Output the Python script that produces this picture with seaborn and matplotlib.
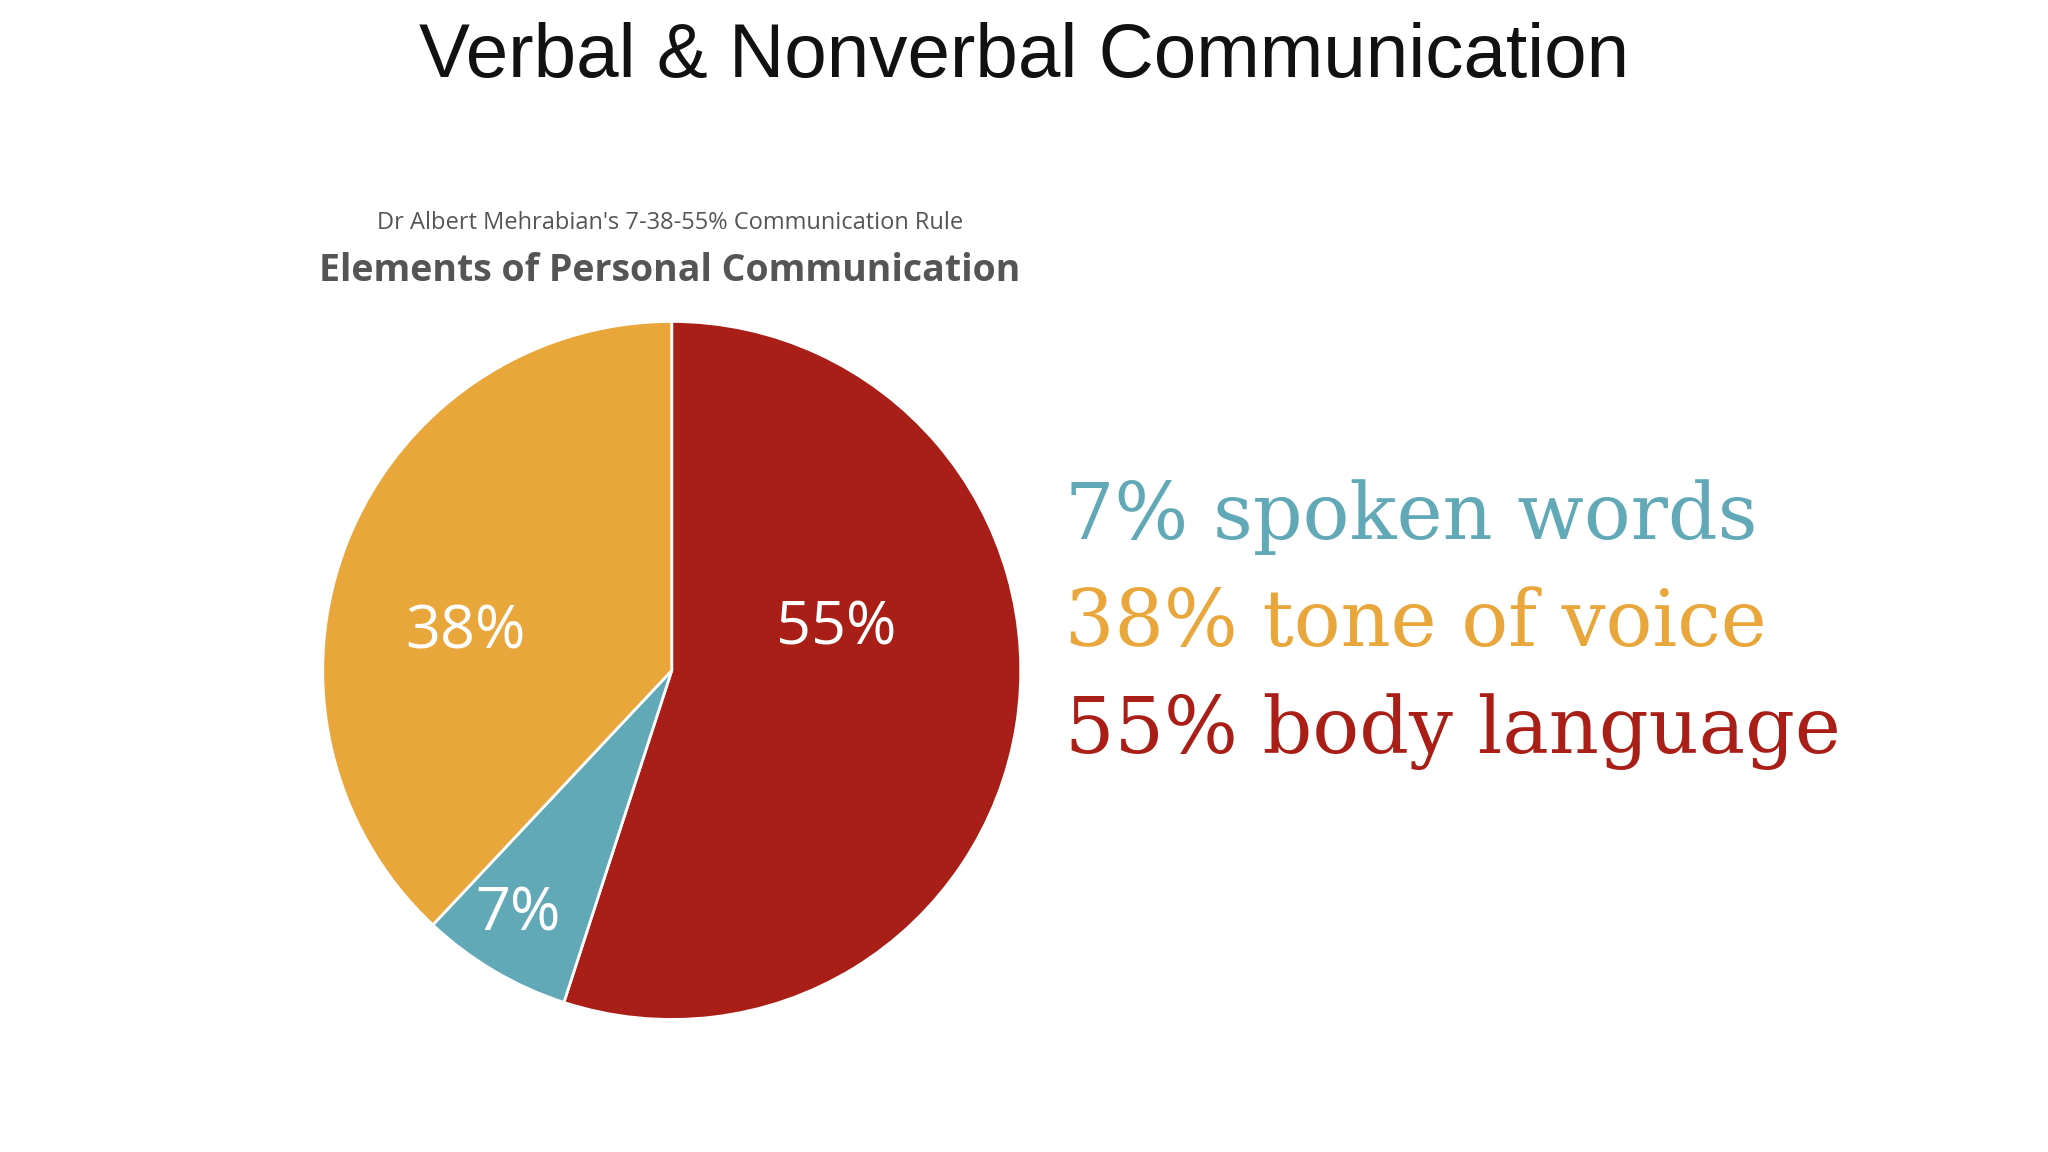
import matplotlib
matplotlib.use("Agg")
import matplotlib.pyplot as plt
import seaborn as sns

labels = ["body language", "spoken words", "tone of voice"]
values = [55, 7, 38]
colors = ["#A91F17", "#62A9B8", "#E9A63B"]
legend_order = [1, 2, 0]

sns.set_theme(style="white")
plt.rcParams['font.family'] = ['Open Sans', 'DejaVu Sans']

fig = plt.figure(figsize=(20.48, 11.52), dpi=100)
fig.patch.set_facecolor("white")

fig.text(0.5, 0.95, "Verbal & Nonverbal Communication", ha="center", va="center",
         fontsize=55, family="Liberation Sans", color="#111111")
fig.text(0.327, 0.806, "Dr Albert Mehrabian's 7-38-55% Communication Rule", ha="center",
         va="center", fontsize=17, color="#555555")
fig.text(0.327, 0.765, "Elements of Personal Communication", ha="center", va="center",
         fontsize=27, fontweight="bold", color="#555555")

cx, cy = 0.328, 0.418
h = 0.612
w = h * 1152 / 2048
ax = fig.add_axes([cx - w / 2, cy - h / 2, w, h])
ax.pie(values, colors=colors, startangle=90, counterclock=False,
       wedgeprops=dict(edgecolor="white", linewidth=2))
ax.set_xlim(-1.01, 1.01)
ax.set_ylim(-1.01, 1.01)
ax.set_aspect("equal")
ax.axis("off")

pct_pos = [(0.47, 0.12), (-0.44, -0.70), (-0.59, 0.11)]
for v, (x, y) in zip(values, pct_pos):
    ax.text(x, y, f"{v}%", color="white", fontsize=44, ha="center", va="center")

ys = [0.551, 0.458, 0.365]
for i, y in zip(legend_order, ys):
    fig.text(0.52, y, f"{values[i]}% {labels[i]}", color=colors[i], fontsize=56,
             family="DejaVu Serif", ha="left", va="center")

fig.savefig("out.png", dpi=100, facecolor="white")
